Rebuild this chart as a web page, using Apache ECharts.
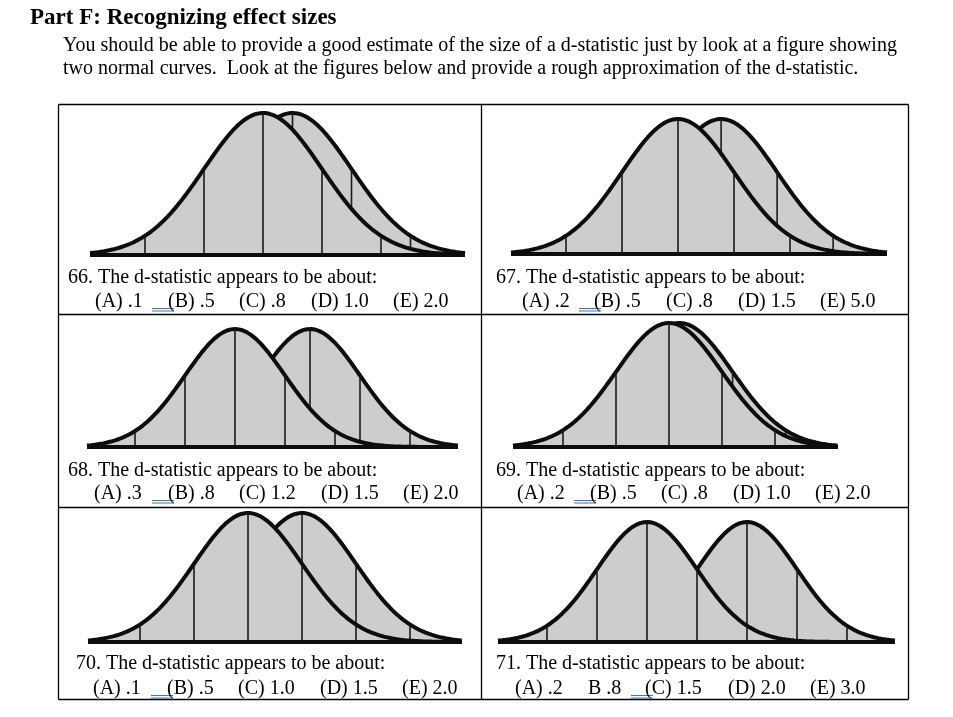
<!DOCTYPE html>
<html><head><meta charset="utf-8">
<script src="https://cdn.jsdelivr.net/npm/echarts@6/dist/echarts.min.js"></script>
<style>html,body{margin:0;padding:0;background:#fff}#c{width:953px;height:717px}</style>
</head><body><div id="c"></div>
<script>
// ---------- data ----------
const headingText = "Part F: Recognizing effect sizes";
const introLines = [
  "You should be able to provide a good estimate of the size of a d-statistic just by look at a figure showing",
  "two normal curves.  Look at the figures below and provide a rough approximation of the d-statistic."
];
const questionLabels = [
  "66. The d-statistic appears to be about:",
  "67. The d-statistic appears to be about:",
  "68. The d-statistic appears to be about:",
  "69. The d-statistic appears to be about:",
  "70. The d-statistic appears to be about:",
  "71. The d-statistic appears to be about:"
];
const choices66 = ["(A) .1", "(B) .5", "(C) .8", "(D) 1.0", "(E) 2.0"];
const choices67 = ["(A) .2", "(B) .5", "(C) .8", "(D) 1.5", "(E) 5.0"];
const choices68 = ["(A) .3", "(B) .8", "(C) 1.2", "(D) 1.5", "(E) 2.0"];
const choices69 = ["(A) .2", "(B) .5", "(C) .8", "(D) 1.0", "(E) 2.0"];
const choices70 = ["(A) .1", "(B) .5", "(C) 1.0", "(D) 1.5", "(E) 2.0"];
const choices71 = ["(A) .2", "B .8", "(C) 1.5", "(D) 2.0", "(E) 3.0"];
const answerChoices = [choices66, choices67, choices68, choices69, choices70, choices71];
// separation of the two drawn curves, in SD units
const effectSizes = [0.5, 0.77, 1.5, 0.2, 1.0, 2.0];
// SD marks drawn under every curve
const sdMarks = [-2, -1, 0, 1, 2];
const curveStep = 0.04;

// ---------- layout (pixels) ----------
const panelLayout = [
  {xL: 90,  xR: 465, m: 263, sd: 59, peak: 113, base: 255, qx: 68,  qy: 288, oy: 312, uy: 306, ox: [95, 168, 239, 311, 393], ux: [152, 174]},
  {xL: 511, xR: 887, m: 678, sd: 56, peak: 119, base: 254, qx: 496, qy: 288, oy: 312, uy: 306, ox: [522, 594, 666, 738, 820], ux: [579, 601]},
  {xL: 87,  xR: 458, m: 235, sd: 50, peak: 329, base: 447, qx: 68,  qy: 481, oy: 504, uy: 498, ox: [94, 168, 239, 321, 403], ux: [152, 174]},
  {xL: 513, xR: 838, m: 669, sd: 53, peak: 323, base: 447, qx: 496, qy: 481, oy: 504, uy: 498, ox: [517, 590, 661, 733, 815], ux: [574, 596]},
  {xL: 88,  xR: 462, m: 248, sd: 54, peak: 513, base: 642, qx: 76,  qy: 674, oy: 699, uy: 693, ox: [93, 167, 238, 320, 402], ux: [151, 173]},
  {xL: 498, xR: 895, m: 647, sd: 50, peak: 522, base: 642, qx: 496, qy: 674, oy: 699, uy: 693, ox: [515, 588, 645, 728, 810], ux: [631, 653]}
];
const SERIF = '"Liberation Serif", "Times New Roman", serif';
const FILL = '#cdcdcd';
const INK = '#0d0d0d';

function density(x, mu) { return Math.exp(-0.5 * (x - mu) * (x - mu)); }

const grids = [], xAxes = [], yAxes = [], series = [], graphics = [];

function txt(text, x, y, font) {
  return {type: 'text', z: 10, style: {text: text, x: x, y: y, font: font, fill: '#000', textVerticalAlign: 'bottom', verticalAlign: 'bottom'}};
}

panelLayout.forEach((p, i) => {
  const xmin = (p.xL - p.m) / p.sd, xmax = (p.xR - p.m) / p.sd;
  grids.push({left: p.xL, top: p.peak, width: p.xR - p.xL, height: p.base - p.peak});
  xAxes.push({type: 'value', gridIndex: i, min: xmin, max: xmax, show: false});
  yAxes.push({type: 'value', gridIndex: i, min: 0, max: 1, show: false});
  const d = effectSizes[i];
  [d, 0].forEach((mu, k) => {
    const pts = [];
    for (let x = xmin; x <= xmax + 1e-9; x += curveStep) pts.push([x, density(x, mu)]);
    pts.push([xmax, density(xmax, mu)]);
    const zBase = k === 0 ? 2 : 4;
    series.push({
      type: 'line', xAxisIndex: i, yAxisIndex: i, data: pts, showSymbol: false, symbol: 'none',
      clip: false, z: zBase, silent: true,
      lineStyle: {color: INK, width: 4},
      areaStyle: {color: FILL, opacity: 1}
    });
    series.push({
      type: 'custom', xAxisIndex: i, yAxisIndex: i, z: zBase + 1, clip: false, silent: true,
      data: sdMarks.map(s => [mu + s, density(mu + s, mu)]).filter(v => v[0] >= xmin && v[0] <= xmax),
      renderItem: (params, api) => {
        const a = api.coord([api.value(0), 0]);
        const b = api.coord([api.value(0), api.value(1)]);
        return {type: 'line', shape: {x1: a[0], y1: a[1], x2: b[0], y2: b[1]},
                style: {stroke: '#1a1a1a', lineWidth: 1.6}};
      }
    });
  });
  series.push({
    type: 'line', xAxisIndex: i, yAxisIndex: i, data: [[xmin, 0], [xmax, 0]], showSymbol: false,
    symbol: 'none', clip: false, z: 6, silent: true, lineStyle: {color: INK, width: 4}
  });

  graphics.push(txt(questionLabels[i], p.qx, p.qy, '20px ' + SERIF));
  answerChoices[i].forEach((c, j) => graphics.push(txt(c, p.ox[j], p.oy, '20px ' + SERIF)));
  [2.5, 5].forEach(dy => graphics.push({type: 'line', z: 9, shape: {x1: p.ux[0], y1: p.uy + dy, x2: p.ux[1], y2: p.uy + dy}, style: {stroke: '#3d6fd6', lineWidth: 1}}));
});

graphics.push(txt(headingText, 30, 30, 'bold 23px ' + SERIF));
graphics.push(txt(introLines[0], 63, 56, '20px ' + SERIF));
graphics.push(txt(introLines[1], 63, 79, '20px ' + SERIF));

// table rules
const tableX = [58.5, 481.5, 908.5], tableY = [104.5, 314.5, 507.5, 699.5];
tableY.forEach(y => graphics.push({type: 'line', z: 8, shape: {x1: tableX[0], y1: y, x2: tableX[2], y2: y}, style: {stroke: '#000', lineWidth: 1.3}}));
tableX.forEach(x => graphics.push({type: 'line', z: 8, shape: {x1: x, y1: tableY[0], x2: x, y2: tableY[3]}, style: {stroke: '#000', lineWidth: 1.3}}));

const chart = echarts.init(document.getElementById('c'), null, {renderer: 'canvas'});
chart.setOption({
  animation: false,
  backgroundColor: '#fff',
  grid: grids, xAxis: xAxes, yAxis: yAxes, series: series,
  graphic: {elements: graphics}
});
</script></body></html>
